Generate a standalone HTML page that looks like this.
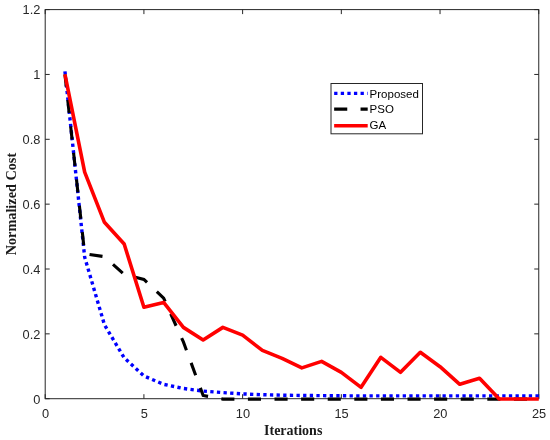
<!DOCTYPE html>
<html><head><meta charset="utf-8"><title>Normalized Cost vs Iterations</title>
<style>html,body{margin:0;padding:0;background:#fff;}svg{display:block}</style></head>
<body><svg width="550" height="440" viewBox="0 0 550 440">
<rect width="550" height="440" fill="#fff"/>
<rect x="45.2" y="9.6" width="493.55" height="389.09999999999997" fill="#fff" stroke="#262626" stroke-width="1"/>
<path d="M45.20,398.7 v-4.5 M45.20,9.6 v4.5 M143.91,398.7 v-4.5 M143.91,9.6 v4.5 M242.62,398.7 v-4.5 M242.62,9.6 v4.5 M341.33,398.7 v-4.5 M341.33,9.6 v4.5 M440.04,398.7 v-4.5 M440.04,9.6 v4.5 M538.75,398.7 v-4.5 M538.75,9.6 v4.5 M45.2,398.70 h4.5 M538.75,398.70 h-4.5 M45.2,333.85 h4.5 M538.75,333.85 h-4.5 M45.2,269.00 h4.5 M538.75,269.00 h-4.5 M45.2,204.15 h4.5 M538.75,204.15 h-4.5 M45.2,139.30 h4.5 M538.75,139.30 h-4.5 M45.2,74.45 h4.5 M538.75,74.45 h-4.5 M45.2,9.60 h4.5 M538.75,9.60 h-4.5" stroke="#262626" stroke-width="1" fill="none"/>
<g font-family="'Liberation Sans', Arial, sans-serif" font-size="12.8" fill="#262626"><text x="45.50" y="417.6" text-anchor="middle">0</text><text x="144.21" y="417.6" text-anchor="middle">5</text><text x="242.92" y="417.6" text-anchor="middle">10</text><text x="341.63" y="417.6" text-anchor="middle">15</text><text x="440.34" y="417.6" text-anchor="middle">20</text><text x="539.05" y="417.6" text-anchor="middle">25</text><text x="40.4" y="403.75" text-anchor="end">0</text><text x="40.4" y="339.00" text-anchor="end">0.2</text><text x="40.4" y="273.85" text-anchor="end">0.4</text><text x="40.4" y="209.10" text-anchor="end">0.6</text><text x="40.4" y="144.25" text-anchor="end">0.8</text><text x="40.4" y="78.70" text-anchor="end">1</text><text x="40.4" y="13.75" text-anchor="end">1.2</text></g>
<g font-family="'Liberation Serif', 'Times New Roman', serif" font-weight="bold" font-size="14" fill="#1a1a1a"><text x="293.2" y="434.6" text-anchor="middle">Iterations</text><text transform="translate(16.2,204.1) rotate(-90)" text-anchor="middle" font-size="14.25">Normalized Cost</text></g>
<g fill="none" stroke-linejoin="miter" stroke-linecap="butt"><path d="M64.94,71.37 L84.68,257.16 L104.43,324.77 L124.17,357.84 L143.91,376.00 L163.65,384.30 L183.39,388.49 L203.14,391.08 L222.88,392.60 L242.62,393.90 L262.36,394.71 L282.10,395.20 L301.85,395.46 L321.59,395.65 L341.33,395.78 L361.07,395.91 L380.81,395.91 L400.56,395.91 L420.30,395.91 L440.04,395.91 L459.78,395.91 L479.52,395.91 L499.27,395.91 L519.01,395.91 L538.75,395.91" stroke="#0000ff" stroke-width="3.4" stroke-dasharray="3.3 3.338" stroke-dashoffset="0.36"/><path d="M64.94,74.45 L84.68,253.76 L104.43,256.68 L124.17,274.51 L143.91,279.38 L163.65,298.18 L183.39,341.96 L203.14,395.46 L222.88,399.09 L242.62,399.09 L262.36,399.09 L282.10,399.09 L301.85,399.09 L321.59,399.09 L341.33,399.09 L361.07,399.09 L380.81,399.09 L400.56,399.09 L420.30,399.09 L440.04,399.09 L459.78,399.09 L479.52,399.09 L499.27,399.09 L519.01,399.09 L538.75,399.09" stroke="#000" stroke-width="3.1" stroke-dasharray="13.1 13.5" stroke-dashoffset="0.9"/><path d="M64.94,74.45 L84.68,172.05 L104.43,222.31 L124.17,244.03 L143.91,307.26 L163.65,302.40 L183.39,327.37 L203.14,340.01 L222.88,327.37 L242.62,335.15 L262.36,350.39 L282.10,358.30 L301.85,367.90 L321.59,361.41 L341.33,372.31 L361.07,387.35 L380.81,357.33 L400.56,372.31 L420.30,352.33 L440.04,366.70 L459.78,384.30 L479.52,378.27 L499.27,399.02 L519.01,399.02 L538.75,399.02" stroke="#ff0000" stroke-width="3.6" stroke-linejoin="round"/></g>
<rect x="331" y="83.5" width="91.5" height="50.3" fill="#fff" stroke="#262626" stroke-width="1"/>
<g fill="none"><path d="M334.15,93.4 H367.7" stroke="#0000ff" stroke-width="3.4" stroke-dasharray="3.3 3.3"/><path d="M334.15,109.2 H367.7" stroke="#000" stroke-width="3.3" stroke-dasharray="13.1 13.3"/><path d="M334.15,125.8 H367.7" stroke="#ff0000" stroke-width="3.5"/></g>
<g font-family="'Liberation Sans', Arial, sans-serif" font-size="11.5" fill="#000"><text x="369.6" y="97.7">Proposed</text><text x="369.6" y="113.1">PSO</text><text x="369.6" y="129">GA</text></g>
</svg></body></html>
